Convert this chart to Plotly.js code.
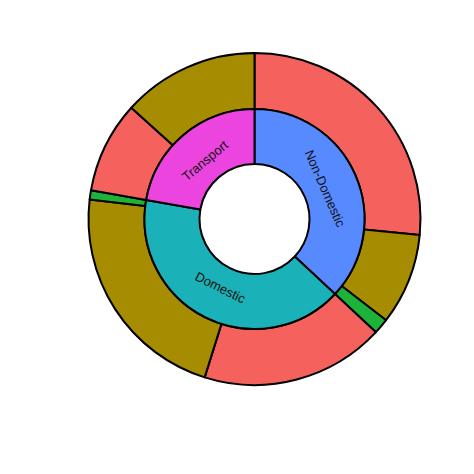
<!DOCTYPE html>
<html>
<head>
<meta charset="utf-8">
<script src="https://cdn.plot.ly/plotly-3.0.1.min.js"></script>
<style>
  html, body { margin: 0; padding: 0; background: #ffffff; }
  #plot { width: 474px; height: 474px; }
</style>
</head>
<body>
<div id="plot"></div>
<script>
// Sectors (inner ring) and fuel shares per sector (outer ring), % of total
var sectors = ["Non-Domestic", "Domestic", "Transport"];
var fuels = ["Electricity", "Gas", "Other"];

var non_domestic = [26.5, 8.9, 1.5];
var domestic = [17.9, 22.0, 0.9];
var transport = [8.9, 13.3, 0];

var sector_cols = ["#5789FF", "#1BB1B8", "#EC45DF"];
var fuel_cols = ["#F5625E", "#A68C00", "#1DB23A"];

// Build the outer ring from the per-sector arrays
var sector_vals = [non_domestic, domestic, transport];
var outer_labels = [];
var outer_values = [];
var outer_cols = [];
sector_vals.map((vals, i) => {
  vals.map((v, j) => {
    if (v > 0) {
      outer_labels.push(sectors[i] + " - " + fuels[j]);
      outer_values.push(v);
      outer_cols.push(fuel_cols[j]);
    }
  });
});

// Inner ring totals
var inner_values = sector_vals.map(vals => vals.reduce((a, b) => a + b, 0));
var total = inner_values.reduce((a, b) => a + b, 0);

// Ring geometry (pixels on a 474 canvas)
var W = 474;
var cx = 254.5, cy = 219;
var r_outer = 166, r_inner = 110, r_hole = 55;

var outline = { color: "#000000", width: 2 };

var outer = {
  type: "pie",
  labels: outer_labels,
  values: outer_values,
  sort: false,
  direction: "clockwise",
  rotation: 0,
  hole: r_inner / r_outer,
  domain: {
    x: [(cx - r_outer) / W, (cx + r_outer) / W],
    y: [(W - cy - r_outer) / W, (W - cy + r_outer) / W]
  },
  marker: { colors: outer_cols, line: outline },
  textinfo: "none",
  hoverinfo: "label+value",
  showlegend: false
};

var inner = {
  type: "pie",
  labels: sectors,
  values: inner_values,
  sort: false,
  direction: "clockwise",
  rotation: 0,
  hole: r_hole / r_inner,
  domain: {
    x: [(cx - r_inner) / W, (cx + r_inner) / W],
    y: [(W - cy - r_inner) / W, (W - cy + r_inner) / W]
  },
  marker: { colors: sector_cols, line: outline },
  textinfo: "none",
  hoverinfo: "label+value",
  showlegend: false
};

// Sector labels, written along the ring at each slice's middle
var annotations = [];
var cum = 0;
var r_text = 77;
sectors.map((name, i) => {
  let mid = (cum + inner_values[i] / 2) / total * 360;
  cum += inner_values[i];
  let rad = mid * Math.PI / 180;
  let angle = mid;
  if (mid > 90 && mid < 270) angle = mid - 180;
  if (mid >= 270) angle = mid - 360;
  annotations.push({
    xref: "paper",
    yref: "paper",
    x: (cx + r_text * Math.sin(rad)) / W,
    y: (W - cy + r_text * Math.cos(rad)) / W,
    xanchor: "center",
    yanchor: "middle",
    text: name,
    textangle: angle,
    showarrow: false,
    font: { family: "Liberation Sans, Arial, sans-serif", size: 13, color: "#111111" }
  });
});

var layout = {
  width: 474,
  height: 474,
  margin: { l: 0, r: 0, t: 0, b: 0 },
  paper_bgcolor: "#ffffff",
  plot_bgcolor: "#ffffff",
  showlegend: false,
  annotations: annotations
};

Plotly.newPlot("plot", [outer, inner], layout, { displayModeBar: false, staticPlot: true });
</script>
</body>
</html>
